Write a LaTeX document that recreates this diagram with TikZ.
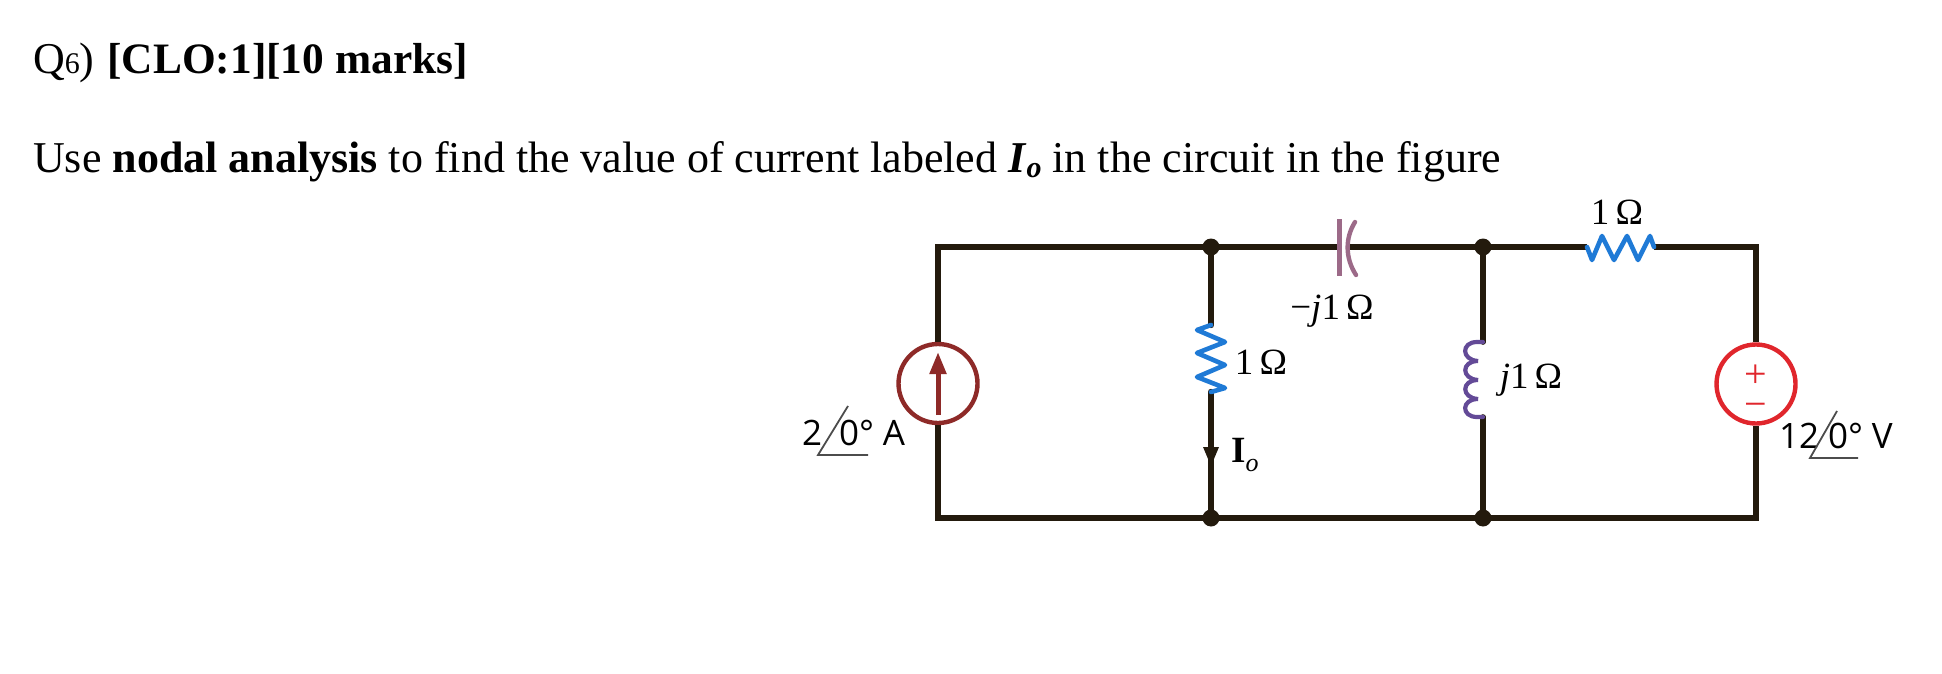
\documentclass[tikz,border=0pt]{standalone}
\usepackage{fontspec}
\setmainfont{Liberation Serif}
\setsansfont{Open Sans}
\usetikzlibrary{arrows.meta}
\definecolor{wirecol}{HTML}{231A0D}
\definecolor{srccol}{HTML}{8E2A28}
\definecolor{rescol}{HTML}{1F7AD6}
\definecolor{indcol}{HTML}{634A97}
\definecolor{capcol}{HTML}{9C6A88}
\definecolor{vsrccol}{HTML}{E0262C}
\tikzset{
  wire/.style={draw=wirecol,line width=5.6pt,line join=miter},
  branch/.style={draw=wirecol,line width=6.4pt,line cap=round},
  junction/.style={circle,fill=wirecol,minimum size=17pt,inner sep=0pt,outer sep=-2pt},
  source/.style={circle,line width=4.4pt,minimum size=79pt,inner sep=0pt},
  heading/.style={anchor=base west,inner sep=0pt,font=\fontsize{44}{44}\selectfont},
  value/.style={inner sep=0pt,anchor=base,font=\fontsize{37}{37}\selectfont},
  phasor/.style={inner sep=0pt,anchor=base west,font=\sffamily\fontsize{35}{35}\selectfont},
  angle/.style={draw=black!70,line width=1.8pt},
  resistor/.style={draw=rescol,line width=4.6pt,line join=round,line cap=round}
}
\begin{document}
\begin{tikzpicture}[x=1pt,y=-1pt]
\useasboundingbox (0,0) rectangle (1942,674);
% the two lines of the question
\node[heading] (question) at (33,74) {Q{\fontsize{30}{30}\selectfont 6})\hspace{0.29em}{\fontsize{43.4}{44}\selectfont\textbf{[CLO:1][10 marks]}}};
\node[heading] (task) at (33,172) {Use \textbf{nodal analysis} to find the value of current labeled \textbf{\textit{I}}{\fontsize{30}{30}\selectfont\raisebox{-5pt}{\textbf{\textit{o}}}} in the circuit in the figure};
% corners and junctions
\coordinate (tl) at (938,247);
\coordinate (tr) at (1756,247);
\coordinate (bl) at (938,518);
\coordinate (br) at (1756,518);
\node[junction] (n1) at (1211,247) {};
\node[junction] (n2) at (1483,247) {};
\node[junction] (n3) at (1211,518) {};
\node[junction] (n4) at (1483,518) {};
% sources
\node[source,draw=srccol] (isrc) at (938,383.5) {};
\node[source,draw=vsrccol] (vsrc) at (1756,384) {};
% ends of the elements
\coordinate (capa) at (1339,247);
\coordinate (capb) at (1349,247);
\coordinate (r1a) at (1211,325);
\coordinate (r1b) at (1211,392);
\coordinate (tipo) at (1211,466);
\coordinate (r2a) at (1587,247);
\coordinate (r2b) at (1654,247);
\coordinate (la) at (1483,342);
\coordinate (lb) at (1483,417);
% wires
\draw[wire] (isrc) -- (tl) -- (n1);
\draw[wire] (n1) -- (capa);
\draw[wire] (capb) -- (n2);
\draw[wire] (n2) -- (r2a);
\draw[wire] (r2b) -- (tr) -- (vsrc);
\draw[wire] (isrc) -- (bl) -- (n3);
\draw[wire] (n3) -- (n4);
\draw[wire] (n4) -- (br) -- (vsrc);
\draw[branch] (n1) -- (r1a);
\draw[branch] (r1b) -- (n3);
\draw[wire,line cap=round] (n2) -- (la);
\draw[wire,line cap=round] (lb) -- (n4);
\draw[draw=none,fill=wirecol] (1203,447) -- (1219,447) -- (tipo) -- cycle;
% capacitor
\draw[draw=capcol,line width=5pt] (1339,219) -- (1339,276);
\draw[draw=capcol,line width=4.4pt,line cap=round] (1355,222) .. controls (1345,238) and (1345,258) .. (1356,275);
% resistors
\draw[resistor] (r1a) -- (1197,330) -- (1225,342) -- (1197,353) -- (1225,365) -- (1197,377) -- (1225,388) -- (r1b);
\draw[resistor] (r2a) -- (1592,260) -- (1602,236) -- (1614,260) -- (1627,236) -- (1638,260) -- (1650,236) -- (r2b);
% inductor
\draw[draw=indcol,line width=4.2pt,line cap=round] (la) -- (1477,342)
  .. controls (1461,342) and (1461,360) .. (1478,361)
  .. controls (1461,361) and (1461,379) .. (1478,380)
  .. controls (1461,380) and (1461,398) .. (1478,399)
  .. controls (1461,399) and (1461,417) .. (1477,417) -- (lb);
% current source arrow
\draw[draw=srccol,line width=5pt,-{Triangle[length=22pt,width=16pt]}] (938,415) -- (938,352);
% voltage source signs
\node[inner sep=0pt,align=center,text=vsrccol,font=\fontsize{40}{30}\selectfont] (signs) at (1756,391) {+\\−};
% values
\node[value] (rtop) at (1617,224) {1\,Ω};
\node[value] (cval) at (1332,319) {−\textit{j}1\,Ω};
\node[value] (rval) at (1261,374) {1\,Ω};
\node[value] (lval) at (1531,388) {\textit{j}1\,Ω};
\node[inner sep=0pt,anchor=base west,font=\fontsize{37}{37}\selectfont] (io) at (1231,462) {\textbf{I}{\fontsize{26}{26}\selectfont\raisebox{-9pt}{\textit{o}}}};
% phasor labels
\node[phasor] (itwo) at (802,445) {2};
\node[phasor] (izero) at (839,445) {0°\hspace{0.25em}A};
\draw[angle] (868,455) -- (818,455) -- (848,406);
\node[phasor] (vtwelve) at (1779,448) {12};
\node[phasor] (vzero) at (1828,448) {0°\hspace{0.25em}V};
\draw[angle] (1858,458) -- (1810,458) -- (1837,411);
\end{tikzpicture}
\end{document}
